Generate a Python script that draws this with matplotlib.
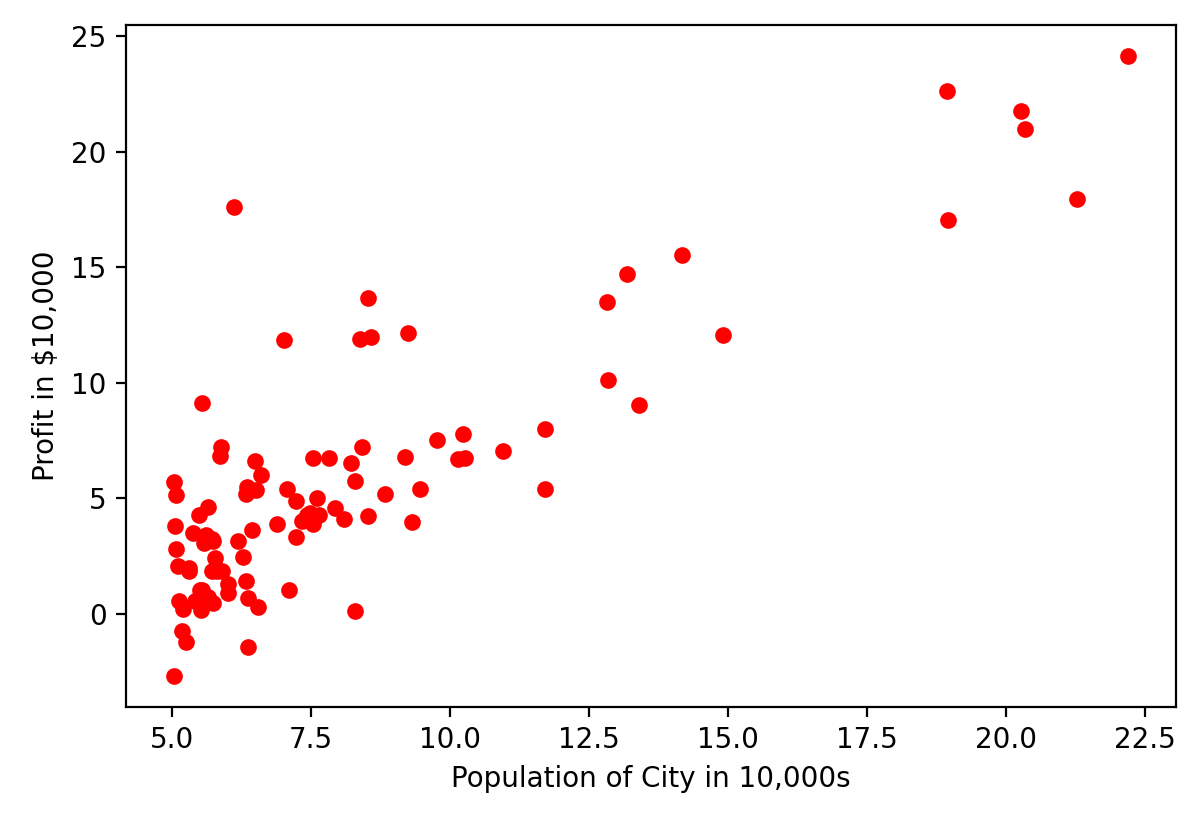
import matplotlib
matplotlib.use("Agg")
import matplotlib.pyplot as plt

population = [6.1101,5.5277,8.5186,7.0032,5.8598,8.3829,7.4764,8.5781,6.4862,5.0546,5.7107,14.164,5.734,8.4084,5.6407,5.3794,6.3654,5.1301,6.4296,7.0708,6.1891,20.27,5.4901,6.3261,5.5649,18.945,12.828,10.957,13.176,22.203,5.2524,6.5894,9.2482,5.8918,8.2111,7.9334,8.0959,5.6063,12.836,6.3534,5.4069,6.8825,11.708,5.7737,7.8247,7.0931,5.0702,5.8014,11.7,5.5416,7.5402,5.3077,7.4239,7.6031,6.3328,6.3589,6.2742,5.6397,9.3102,9.4536,8.8254,5.1793,21.279,14.908,18.959,7.2182,8.2951,10.236,5.4994,20.341,10.136,7.3345,6.0062,7.2259,5.0269,6.5479,7.5386,5.0365,10.274,5.1077,5.7292,5.1884,6.3557,9.7687,6.5159,8.5172,9.1802,6.002,5.5204,5.0594,5.7077,7.6366,5.8707,5.3054,8.2934,13.394,5.4369]
profit = [17.592,9.1302,13.662,11.854,6.8233,11.886,4.3483,12,6.5987,3.8166,3.2522,15.505,3.1551,7.2258,0.71618,3.5129,5.3048,0.56077,3.6518,5.3893,3.1386,21.767,4.263,5.1875,3.0825,22.638,13.501,7.0467,14.692,24.147,-1.22,5.9966,12.134,1.8495,6.5426,4.5623,4.1164,3.3928,10.117,5.4974,0.55657,3.9115,5.3854,2.4406,6.7318,1.0463,5.1337,1.844,8.0043,1.0179,6.7504,1.8396,4.2885,4.9981,1.4233,-1.4211,2.4756,4.6042,3.9624,5.4141,5.1694,-0.74279,17.929,12.054,17.054,4.8852,5.7442,7.7754,1.0173,20.992,6.6799,4.0259,1.2784,3.3411,-2.6807,0.29678,3.8845,5.7014,6.7526,2.0576,0.47953,0.20421,0.67861,7.5435,5.3436,4.2415,6.7981,0.92695,0.152,2.8214,1.8451,4.2959,7.2029,1.9869,0.14454,9.0551,0.61705]

fig, ax = plt.subplots(figsize=(6, 4.11), dpi=200)
ax.plot(population, profit, 'o', color='red', markersize=5, linestyle='none')
ax.set_xlabel('Population of City in 10,000s')
ax.set_ylabel('Profit in $10,000')
ax.set_xticks([5.0,7.5,10.0,12.5,15.0,17.5,20.0,22.5])
fig.subplots_adjust(left=0.105, right=0.98, top=0.97, bottom=0.14)
fig.savefig('out.png')
